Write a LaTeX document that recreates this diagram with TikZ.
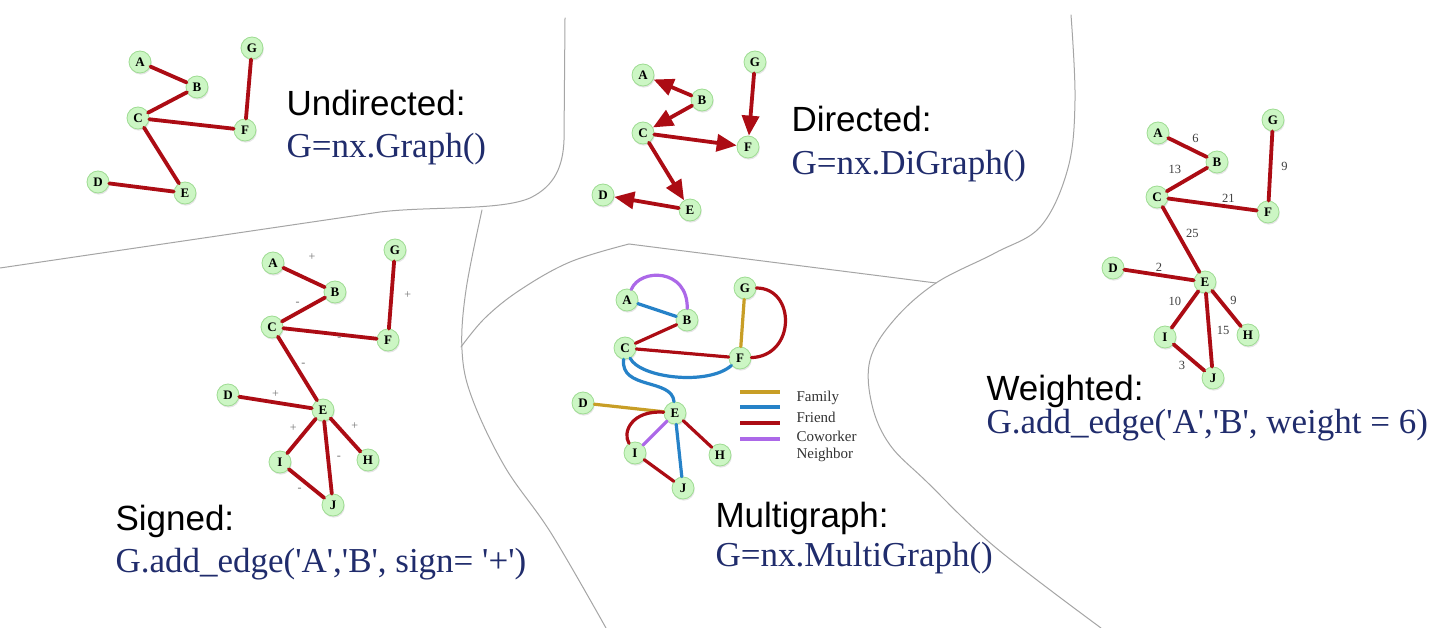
\documentclass[tikz,border=0pt]{standalone}
\usepackage{fontspec}
\setmainfont{Liberation Serif}
\newfontfamily\headfont{Liberation Sans}
\usetikzlibrary{arrows.meta, shadows}
\definecolor{edgered}{RGB}{172, 12, 20}
\definecolor{vtxfill}{RGB}{204, 246, 196}
\definecolor{vtxline}{RGB}{158, 220, 146}
\definecolor{codeblue}{RGB}{32, 44, 108}
\definecolor{famcol}{RGB}{200, 158, 38}
\definecolor{frcol}{RGB}{38, 130, 200}
\definecolor{nbcol}{RGB}{172, 104, 232}
\definecolor{divgray}{RGB}{165, 165, 165}
\newcommand{\sq}{\textquotesingle}

\tikzset{
  vtx/.style={circle, draw=vtxline, line width=0.8pt, fill=vtxfill,
    minimum size=22pt, inner sep=0pt,
    font=\fontsize{13}{13}\selectfont\bfseries,
    drop shadow={opacity=0.2, shadow xshift=0.8pt, shadow yshift=-1.6pt}},
  lnk/.style={draw=edgered, line width=3.8pt},
  dlnk/.style={lnk, -{Triangle[length=20pt, width=17pt]}},
  fam/.style={draw=famcol, line width=3.2pt},
  frd/.style={draw=frcol, line width=3.2pt},
  cow/.style={draw=edgered, line width=3.2pt},
  nbr/.style={draw=nbcol, line width=3.2pt},
  wt/.style={font=\fontsize{12.5}{12.5}\selectfont, text=black!75, inner sep=1pt},
  sgn/.style={font=\fontsize{12}{12}\selectfont, text=black!55, inner sep=1pt},
  title/.style={anchor=base west, font=\headfont\fontsize{35}{40}\selectfont},
  code/.style={anchor=base west, text=codeblue, font=\fontsize{35}{40}\selectfont},
  legtxt/.style={anchor=west, text=black!80, font=\fontsize{15}{15}\selectfont},
  divider/.style={draw=divgray, line width=1pt}
}

\begin{document}
\begin{tikzpicture}[x=1pt, y=-1pt, line cap=round,
    every node/.style={align=center}]
  \useasboundingbox[fill=white] (0,0) rectangle (1439,628);

  % dividing curves
  \draw[divider] (0,268) -- (380,212) .. controls (430,206) and (500,211)
    .. (530,198) .. controls (555,186) and (563,166) .. (564,140) -- (565,18);
  \draw[divider] plot[smooth, tension=0.6] coordinates {(482,210) (466,290)
    (462,350) (472,398) (505,467) (551,533) (606,628)};
  \draw[divider] plot[smooth, tension=0.6] coordinates {(461,347) (485,318)
    (520,290) (570,262) (629,244)} -- (936,283);
  \draw[divider] plot[smooth, tension=0.6] coordinates {(1071,15) (1075,100)
    (1068,168) (1041,226) (995,253) (936,283) (894,320) (870,360) (872,405)
    (890,445) (927,482) (995,547) (1101,628)};

  % undirected
  \foreach \n/\px/\py in {A/140/62, B/197/87, C/138/118, D/98/182,
      E/185/193, F/245/130, G/252/48}
    \node[vtx] (u\n) at (\px,\py) {\n};
  \draw[lnk] (uA) -- (uB);
  \draw[lnk] (uB) -- (uC);
  \draw[lnk] (uC) -- (uF);
  \draw[lnk] (uG) -- (uF);
  \draw[lnk] (uC) -- (uE);
  \draw[lnk] (uD) -- (uE);
  \node[title] (utitle) at (283,116) {Undirected:};
  \node[code] (ucode) at (283,158) {G=nx.Graph()};

  % directed
  \foreach \n/\px/\py in {A/643/75, B/702/100, C/643/133, D/603/195,
      E/690/210, F/748/147, G/755/62}
    \node[vtx] (d\n) at (\px,\py) {\n};
  \draw[dlnk] (dB) -- (dA);
  \draw[dlnk] (dB) -- (dC);
  \draw[dlnk] (dC) -- (dF);
  \draw[dlnk] (dG) -- (dF);
  \draw[dlnk] (dC) -- (dE);
  \draw[dlnk] (dE) -- (dD);
  \node[title] (dtitle) at (788,132) {Directed:};
  \node[code] (dcode) at (788,175) {G=nx.DiGraph()};

  % weighted
  \foreach \n/\px/\py in {A/1158/133, B/1217/162, C/1157/197, D/1113/268,
      E/1205/282, F/1268/212, G/1273/120, H/1248/335, I/1165/337, J/1213/378}
    \node[vtx] (w\n) at (\px,\py) {\n};
  \draw[lnk] (wA) -- node[wt, above right=2pt] {6} (wB);
  \draw[lnk] (wB) -- node[wt, above left=3pt] {13} (wC);
  \draw[lnk] (wG) -- node[wt, right=8pt] {9} (wF);
  \draw[lnk] (wC) -- node[wt, pos=.68, above=1pt] {21} (wF);
  \draw[lnk] (wC) -- node[wt, pos=.4, right=6pt] {25} (wE);
  \draw[lnk] (wD) -- node[wt, above=1pt] {2} (wE);
  \draw[lnk] (wE) -- node[wt, above left=1pt] {10} (wI);
  \draw[lnk] (wE) -- node[wt, above right=1pt] {9} (wH);
  \draw[lnk] (wE) -- node[wt, right=5pt] {15} (wJ);
  \draw[lnk] (wI) -- node[wt, below left=1pt] {3} (wJ);
  \node[title] (wtitle) at (983,400) {Weighted:};
  \node[code] (wcode) at (983,433) {G.add\_edge(\sq A\sq,\sq B\sq, weight = 6)};

  % signed
  \foreach \n/\px/\py in {A/273/263, B/335/292, C/272/327, D/228/395,
      E/323/410, F/388/340, G/395/250, H/368/460, I/280/462, J/333/505}
    \node[vtx] (s\n) at (\px,\py) {\n};
  \draw[lnk] (sA) -- node[sgn, above=14pt, xshift=8pt] {+} (sB);
  \draw[lnk] (sB) -- node[sgn, above left=1pt] {-} (sC);
  \draw[lnk] (sG) -- node[sgn, right=10pt] {+} (sF);
  \draw[lnk] (sC) -- node[sgn, pos=.6, below=0pt] {-} (sF);
  \draw[lnk] (sC) -- node[sgn, pos=.45, right=3pt] {-} (sE);
  \draw[lnk] (sD) -- node[sgn, above=2pt] {+} (sE);
  \draw[lnk] (sE) -- node[sgn, above left=2pt] {+} (sI);
  \draw[lnk] (sE) -- node[sgn, above right=3pt] {+} (sH);
  \draw[lnk] (sE) -- node[sgn, right=6pt] {-} (sJ);
  \draw[lnk] (sI) -- node[sgn, below left=2pt] {-} (sJ);
  \node[title] (stitle) at (112,530) {Signed:};
  \node[code] (scode) at (112,572) {G.add\_edge(\sq A\sq,\sq B\sq, sign= \sq+\sq)};

  % multigraph
  \foreach \n/\px/\py in {A/627/300, B/687/320, C/625/348, D/583/403,
      E/675/413, F/740/358, G/745/288, H/720/455, I/635/453, J/683/488}
    \node[vtx] (m\n) at (\px,\py) {\n};
  \draw[frd] (mA) -- (mB);
  \draw[nbr] (mA) .. controls (640,268) and (688,268) .. (mB);
  \draw[cow] (mC) -- (mB);
  \draw[cow] (mC) -- (mF);
  \draw[frd] (mC) .. controls (640,378) and (708,386) .. (mF);
  \draw[frd] (mC) .. controls (620,390) and (672,378) .. (mE);
  \draw[fam] (mG) -- (mF);
  \draw[cow] (mG) .. controls (796,288) and (796,356) .. (mF);
  \draw[fam] (mD) -- (mE);
  \draw[cow] (mE) .. controls (632,410) and (622,432) .. (mI);
  \draw[nbr] (mE) -- (mI);
  \draw[cow] (mE) -- (mH);
  \draw[frd] (mE) -- (mJ);
  \draw[cow] (mI) -- (mJ);
  % legend
  \draw[fam, line width=4pt, line cap=butt] (740,392) -- (780,392);
  \draw[frd, line width=4pt, line cap=butt] (740,407) -- (780,407);
  \draw[cow, line width=4pt, line cap=butt] (740,423) -- (780,423);
  \draw[nbr, line width=4pt, line cap=butt] (740,439) -- (780,439);
  \node[legtxt] (lfam) at (793,398) {Family};
  \node[legtxt] (lfrd) at (793,417) {Friend};
  \node[legtxt] (lcow) at (793,436) {Coworker};
  \node[legtxt] (lnbr) at (793,455) {Neighbor};
  \node[title] (mtitle) at (712,527) {Multigraph:};
  \node[code] (mcode) at (712,566) {G=nx.MultiGraph()};
\end{tikzpicture}
\end{document}
